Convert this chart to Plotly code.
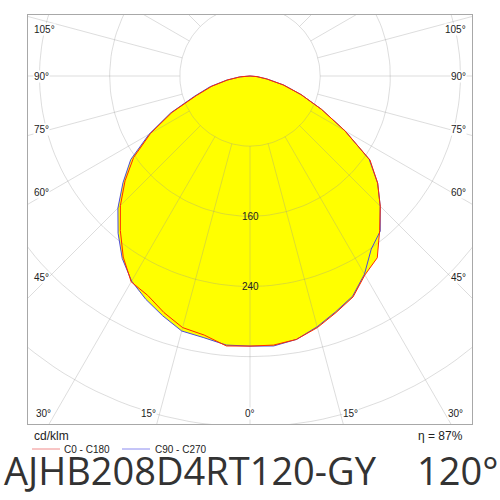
import numpy as np
import plotly.graph_objects as go

# ---------------- data (cd/klm) ----------------
gamma = [0, 5, 10, 15, 20, 25, 30, 35, 40, 45, 50, 55, 60, 65, 70, 75, 80, 85, 90]
c0 = [308, 308, 305, 297, 287, 278, 262, 253, 230, 210, 190, 167, 125, 90, 62, 39, 19, 8, 0]
c180 = [308, 309, 300, 297, 287, 276, 271, 252, 230, 209, 186, 162, 131, 98, 65, 45, 26, 11, 0]
c90 = [308, 309, 305, 296, 286, 277, 261, 241, 231, 210, 190, 166, 125, 90, 62, 40, 20, 8, 0]
c270 = [308, 308, 303, 301, 291, 281, 270, 254, 234, 213, 189, 166, 133, 100, 67, 47, 27, 12, 0]

ring_values = [80, 160, 240, 320, 400]
ring_labels = [160, 240]
spoke_angles = list(range(0, 360, 15))
side_ticks = [105, 90, 75, 60, 45]
bottom_ticks = [30, 15, 0]
unit_label = "cd/klm"
legend_names = ["C0 - C180", "C90 - C270"]
efficiency = "η = 87%"
title_left = "AJHB208D4RT120-GY"
title_right = "120°"

# ---------------- geometry of the page ----------------
W = H = 500
L, R, T, B = 28, 472, 15, 424      # plot box in px
CX, CY = 250, 76                   # pole in px
S = 0.877                          # px per cd/klm

def dxv(px):
    return (px - CX) / S

def dyv(py):
    return (CY - py) / S

x_range = [dxv(L), dxv(R)]
y_range = [dyv(B), dyv(T)]

def plane_xy(left, right):
    g = np.radians(np.array(gamma, dtype=float))
    lv = np.array(left, dtype=float)
    rv = np.array(right, dtype=float)
    theta = np.concatenate([-g[::-1], g[1:]])
    rr = np.concatenate([lv[::-1], rv[1:]])
    return rr * np.sin(theta), -rr * np.cos(theta)

xr, yr = plane_xy(c180, c0)
xb, yb = plane_xy(c270, c90)

fig = go.Figure()

# yellow fill
for xx, yy in [(xr, yr), (xb, yb)]:
    fig.add_trace(go.Scatter(x=xx, y=yy, mode="lines", fill="toself",
                             fillcolor="#ffff00", line=dict(width=0, color="#ffff00"),
                             hoverinfo="skip", showlegend=False))

# grid: rings
t = np.radians(np.arange(0, 361, 2))
gx, gy = [], []
for rv in ring_values:
    gx += list(rv * np.sin(t)) + [None]
    gy += list(-rv * np.cos(t)) + [None]
# grid: spokes
for a in spoke_angles:
    ar = np.radians(a)
    gx += [ring_values[0] * np.sin(ar), 700 * np.sin(ar), None]
    gy += [-ring_values[0] * np.cos(ar), -700 * np.cos(ar), None]
fig.add_trace(go.Scatter(x=gx, y=gy, mode="lines",
                         line=dict(color="rgba(150,150,150,0.32)", width=1),
                         hoverinfo="skip", showlegend=False))

# intensity curves
fig.add_trace(go.Scatter(x=xb, y=yb, mode="lines", line=dict(color="#4b4bdc", width=1),
                         hoverinfo="skip", showlegend=False))
fig.add_trace(go.Scatter(x=xr, y=yr, mode="lines", line=dict(color="#ff2a00", width=1),
                         hoverinfo="skip", showlegend=False))

ann = []
small = dict(family="Liberation Sans, Arial, sans-serif", size=10, color="#222222")

# ring labels
for v in ring_labels:
    ann.append(dict(x=0, y=-v, xref="x", yref="y", text=str(v), showarrow=False,
                    xanchor="center", yanchor="middle", font=small))

# side angle labels
for a in side_ticks:
    ar = np.radians(a)
    inner = 49
    if a == 90:
        py = CY
    else:
        py = CY + (CX - inner) / np.tan(ar)
    py = max(py, T + 14)
    ann.append(dict(x=dxv(L + 5), y=dyv(py), xref="x", yref="y", text=f"{a}°",
                    showarrow=False, xanchor="left", yanchor="middle", font=small,
                    bgcolor="white", borderpad=0))
    ann.append(dict(x=dxv(R - 5), y=dyv(py), xref="x", yref="y", text=f"{a}°",
                    showarrow=False, xanchor="right", yanchor="middle", font=small,
                    bgcolor="white", borderpad=0))

# bottom angle labels
py_b = 413
for a in bottom_ticks:
    off = (py_b - CY) * np.tan(np.radians(a))
    if a == 0:
        ann.append(dict(x=0, y=dyv(py_b), xref="x", yref="y", text=f"{a}°",
                        showarrow=False, xanchor="center", yanchor="middle", font=small,
                        bgcolor="white", borderpad=0))
    else:
        ann.append(dict(x=dxv(CX - off - 3), y=dyv(py_b), xref="x", yref="y", text=f"{a}°",
                        showarrow=False, xanchor="right", yanchor="middle", font=small,
                        bgcolor="white", borderpad=0))
        ann.append(dict(x=dxv(CX + off + 2), y=dyv(py_b), xref="x", yref="y", text=f"{a}°",
                        showarrow=False, xanchor="left", yanchor="middle", font=small,
                        bgcolor="white", borderpad=0))

def px_paper(px):
    return (px - L) / (R - L)

def py_paper(py):
    return (B - py) / (B - T)

ann.append(dict(x=px_paper(32), y=py_paper(436), xref="paper", yref="paper", text=unit_label,
                showarrow=False, xanchor="left", yanchor="middle",
                font=dict(family="Liberation Sans, Arial, sans-serif", size=12, color="#222222")))
ann.append(dict(x=px_paper(62), y=py_paper(449.5), xref="paper", yref="paper", text=legend_names[0],
                showarrow=False, xanchor="left", yanchor="middle", font=small))
ann.append(dict(x=px_paper(153), y=py_paper(449.5), xref="paper", yref="paper", text=legend_names[1],
                showarrow=False, xanchor="left", yanchor="middle", font=small))
ann.append(dict(x=px_paper(465), y=py_paper(436), xref="paper", yref="paper", text=efficiency,
                showarrow=False, xanchor="right", yanchor="middle",
                font=dict(family="Liberation Sans, Arial, sans-serif", size=12, color="#222222")))

big = dict(family="Open Sans, sans-serif", size=38, color="#333333")
ann.append(dict(x=px_paper(2), y=py_paper(470), xref="paper", yref="paper", text=title_left,
                showarrow=False, xanchor="left", yanchor="middle", font=big))
ann.append(dict(x=px_paper(500), y=py_paper(470), xref="paper", yref="paper", text=title_right,
                showarrow=False, xanchor="right", yanchor="middle", font=big))

shapes = [
    dict(type="line", xref="paper", yref="paper", x0=px_paper(32), x1=px_paper(60),
         y0=py_paper(449), y1=py_paper(449), line=dict(color="#f08a8a", width=1)),
    dict(type="line", xref="paper", yref="paper", x0=px_paper(122), x1=px_paper(150),
         y0=py_paper(449), y1=py_paper(449), line=dict(color="#8a8af0", width=1)),
]

axis_common = dict(showgrid=False, zeroline=False, showticklabels=False, ticks="",
                   showline=True, mirror=True, linecolor="#a8a8a8", linewidth=1,
                   fixedrange=True)
fig.update_layout(
    width=W, height=H, autosize=False,
    margin=dict(l=L, r=W - R, t=T, b=H - B, pad=0),
    paper_bgcolor="white", plot_bgcolor="white",
    xaxis=dict(range=x_range, **axis_common),
    yaxis=dict(range=y_range, **axis_common),
    annotations=ann, shapes=shapes, showlegend=False,
    hovermode=False,
)

fig.write_html("out.html", config={"displayModeBar": False, "staticPlot": True},
               post_script="document.body.style.margin='0';document.body.style.padding='0';document.body.style.overflow='hidden';")
